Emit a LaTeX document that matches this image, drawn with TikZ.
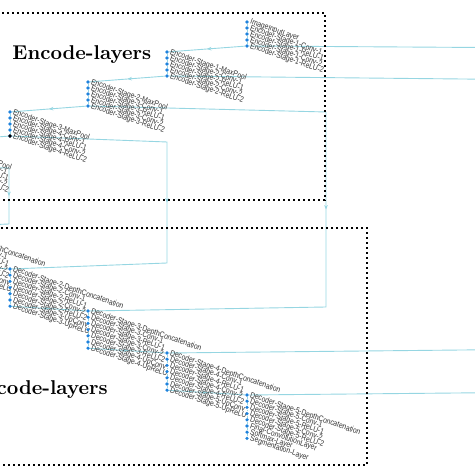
\documentclass[tikz,border=0pt]{standalone}
\usepackage{fontspec}
\newfontfamily\lblfont{Liberation Sans}
\usetikzlibrary{decorations.markings,arrows.meta,backgrounds}
\definecolor{linkcyan}{RGB}{150,214,226}
\definecolor{dotblue}{RGB}{30,130,220}
\tikzset{
  layerdot/.style={circle,fill=dotblue,inner sep=0pt,minimum size=1.8pt},
  lbl/.style={anchor=west,rotate=-19,inner sep=0pt,text=black!80,
    font=\lblfont\fontsize{4}{4.5}\selectfont},
  link/.style={draw=linkcyan,line width=0.45pt},
  midarrow/.style={postaction={decorate},decoration={markings,
    mark=at position 0.5 with {\arrow[linkcyan]{Stealth[length=2.2pt,width=1.8pt]}}}},
  layerbox/.style={line width=1pt,dash pattern=on 1pt off 1.5pt},
  grouptitle/.style={font=\fontsize{10}{12}\selectfont\bfseries,inner sep=0pt}
}
\begin{document}
\begin{tikzpicture}[x=0.5pt,y=-0.5pt]
  \useasboundingbox (0,0) rectangle (474,474);
  \clip (0,0) rectangle (474,474);
  % layer columns: name/x/y/spacing/layers
  \foreach \g/\px/\py/\dy/\names in {
    e0/247/22/6/{ImageInputLayer,Encoder-Stage-1-Conv-1,Encoder-Stage-1-ReLU-1,Encoder-Stage-1-Conv-2,Encoder-Stage-1-ReLU-2},
    e1/167/52/6/{Encoder-Stage-1-MaxPool,Encoder-Stage-2-Conv-1,Encoder-Stage-2-ReLU-1,Encoder-Stage-2-Conv-2,Encoder-Stage-2-ReLU-2},
    e2/88/82/6/{Encoder-Stage-2-MaxPool,Encoder-Stage-3-Conv-1,Encoder-Stage-3-ReLU-1,Encoder-Stage-3-Conv-2,Encoder-Stage-3-ReLU-2},
    e3/10/112/6/{Encoder-Stage-3-MaxPool,Encoder-Stage-4-Conv-1,Encoder-Stage-4-ReLU-1,Encoder-Stage-4-Conv-2,Encoder-Stage-4-ReLU-2},
    e4/-68/142/6/{Encoder-Stage-4-MaxPool,Encoder-Stage-5-Conv-1,Encoder-Stage-5-ReLU-1,Encoder-Stage-5-Conv-2,Encoder-Stage-5-ReLU-2},
    d0/-68/227/6.2/{Decoder-Stage-1-DepthConcatenation,Decoder-Stage-1-Conv-1,Decoder-Stage-1-ReLU-1,Decoder-Stage-1-Conv-2,Decoder-Stage-1-ReLU-2,Decoder-Stage-2-UpConv,Decoder-Stage-2-UpReLU},
    d1/10/269/6.2/{Decoder-Stage-2-DepthConcatenation,Decoder-Stage-2-Conv-1,Decoder-Stage-2-ReLU-1,Decoder-Stage-2-Conv-2,Decoder-Stage-2-ReLU-2,Decoder-Stage-3-UpConv,Decoder-Stage-3-UpReLU},
    d2/88/311/6.2/{Decoder-Stage-3-DepthConcatenation,Decoder-Stage-3-Conv-1,Decoder-Stage-3-ReLU-1,Decoder-Stage-3-Conv-2,Decoder-Stage-3-ReLU-2,Decoder-Stage-4-UpConv,Decoder-Stage-4-UpReLU},
    d3/167/353/6.2/{Decoder-Stage-4-DepthConcatenation,Decoder-Stage-4-Conv-1,Decoder-Stage-4-ReLU-1,Decoder-Stage-4-Conv-2,Decoder-Stage-4-ReLU-2,Decoder-Stage-5-UpConv,Decoder-Stage-5-UpReLU},
    d4/247/395/6.2/{Decoder-Stage-5-DepthConcatenation,Decoder-Stage-5-Conv-1,Decoder-Stage-5-ReLU-1,Decoder-Stage-5-Conv-2,Decoder-Stage-5-ReLU-2,Final-ConvolutionLayer,Softmax-Layer,Segmentation-Layer}}
  {
    \foreach \n [count=\i] in \names {
      \node[layerdot] (\g-\i) at (\px,{\py+\dy*(\i-1)}) {};
      \node[lbl] at ([xshift=1.5pt]\g-\i.center) {\scalebox{0.85}[1]{\n}};
      \ifnum\i>1
        \pgfmathtruncatemacro\j{\i-1}
        \begin{scope}[on background layer]
          \draw[link] (\g-\j) -- (\g-\i);
        \end{scope}
      \fi
    }
  }
  \node[layerdot,fill=black] at (e3-5) {};
  % bends of the skip connections
  \coordinate (s1a) at (560,48);  \coordinate (s1b) at (560,392);
  \coordinate (s2a) at (560,80);  \coordinate (s2b) at (560,349);
  \coordinate (s3a) at (326,112); \coordinate (s3b) at (326,307);
  \coordinate (s4a) at (167,142); \coordinate (s4b) at (167,263);
  \coordinate (s5a) at (9,168);   \coordinate (s5b) at (9,224);
  \begin{scope}[on background layer]
    \draw[link,midarrow] (e0-5) -- (e1-1);
    \draw[link,midarrow] (e1-5) -- (e2-1);
    \draw[link,midarrow] (e2-5) -- (e3-1);
    \draw[link,midarrow] (e3-5) -- (e4-1);
    \draw[link,midarrow] (d0-7) -- (d1-1);
    \draw[link,midarrow] (d1-7) -- (d2-1);
    \draw[link,midarrow] (d2-7) -- (d3-1);
    \draw[link,midarrow] (d3-7) -- (d4-1);
    \draw[link,midarrow] (e0-5) -- (s1a) -- (s1b) -- (d4-1);
    \draw[link,midarrow] (e1-5) -- (s2a) -- (s2b) -- (d3-1);
    \draw[link,midarrow] (e2-5) -- (s3a) -- (s3b) -- (d2-1);
    \draw[link,midarrow] (e3-5) -- (s4a) -- (s4b) -- (d1-1);
    \draw[link,midarrow] (e4-5) -- (s5a) -- (s5b) -- (d0-1);
  \end{scope}
  % dotted frames
  \draw[layerbox] (-10,13) rectangle (325,200);
  \draw[layerbox] (-10,228) rectangle (367,465);
  \node[grouptitle,anchor=base west] (enctitle) at (12,60) {Encode-layers};
  \node[grouptitle,anchor=base east] (dectitle) at (108,394) {Decode-layers};
\end{tikzpicture}
\end{document}
